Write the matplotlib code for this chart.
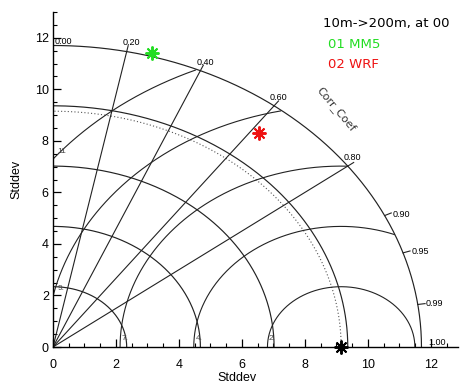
import numpy as np
import matplotlib
matplotlib.use("Agg")
import matplotlib.pyplot as plt

# --- data ---
ref_std = 9.15
model_names = ["01 MM5", "02 WRF"]
model_std = [11.83, 10.57]
model_corr = [0.265, 0.62]
model_colors = ["#22dd22", "#ee1111"]

std_arcs = [2.34, 4.68, 7.02, 9.36, 11.7]
rms_arcs = [2.34, 4.68, 7.02, 9.36, 11.7]
rms_labels = ["2.", "4.", "7.", "9.", "11"]
corr_lines = [0.2, 0.4, 0.6, 0.8]
corr_ticks = [0.2, 0.4, 0.6, 0.8, 0.9, 0.95, 0.99]
title_text = "10m->200m, at 00"

R = std_arcs[-1]
LC = "#222222"

plt.rcParams["font.family"] = ["Liberation Sans", "DejaVu Sans"]

fig = plt.figure(figsize=(4.74, 3.9), dpi=100)
ax = fig.add_axes([53 / 474, 1 - 347 / 390, 405 / 474, 335 / 390])
ax.set_xlim(0, 12.86)
ax.set_ylim(0, 13.0)

t = np.linspace(0, np.pi / 2, 300)

# std dev arcs
for r in std_arcs:
    ax.plot(r * np.cos(t), r * np.sin(t), color=LC, lw=0.85)
# reference arc (dotted)
ax.plot(ref_std * np.cos(t), ref_std * np.sin(t), color="#555555", lw=0.8, ls=(0, (1, 2)))

# correlation rays
for c in corr_lines:
    a = np.arccos(c)
    ax.plot([0, R * np.cos(a)], [0, R * np.sin(a)], color=LC, lw=0.8)

# rms arcs centred on the reference point
tt = np.linspace(0, np.pi, 600)
for r in rms_arcs:
    x = ref_std + r * np.cos(tt)
    y = r * np.sin(tt)
    m = (x ** 2 + y ** 2) > R ** 2 + 1e-6
    x = np.where(m | (x < 0), np.nan, x)
    ax.plot(x, y, color=LC, lw=0.8)

# rms arc labels
for r, lab in zip(rms_arcs, rms_labels):
    if r < ref_std:
        ax.text(ref_std - r + 0.05, 0.2, lab, fontsize=6, color="#444444",
                ha="left", va="bottom")
    else:
        yy = np.sqrt(r ** 2 - ref_std ** 2)
        ax.text(0.15, yy + 0.15, lab, fontsize=6, color="#444444",
                ha="left", va="bottom")

# correlation ticks and labels on the outer arc
for c in corr_ticks:
    a = np.arccos(c)
    ax.plot([R * np.cos(a), 1.02 * R * np.cos(a)],
            [R * np.sin(a), 1.02 * R * np.sin(a)], color=LC, lw=0.8)
    if c <= 0.8:
        ax.annotate(f"{c:.2f}", (R * np.cos(a), R * np.sin(a)), xytext=(-3, 3),
                    textcoords="offset points", fontsize=6.5, ha="left", va="bottom")
    else:
        ax.annotate(f"{c:.2f}", (R * np.cos(a), R * np.sin(a)), xytext=(6, 1),
                    textcoords="offset points", fontsize=6.5, ha="left", va="center")
ax.annotate("1.00", (R, 0), xytext=(5, 3), textcoords="offset points",
            fontsize=6.5, ha="left", va="center")
ax.annotate("0.00", (0, R), xytext=(1, 3), textcoords="offset points",
            fontsize=6.5, ha="left", va="center")

ax.text(0.70, 0.71, "Corr_Coef", transform=ax.transAxes, rotation=-50,
        fontsize=8, family="DejaVu Sans", color="#333333", ha="center", va="center")

# reference and model points
ax.plot(ref_std, 0, marker=(8, 2, 0), color="black", ms=10, mew=1.4,
        clip_on=False, zorder=5)
for s, c, col in zip(model_std, model_corr, model_colors):
    a = np.arccos(c)
    ax.plot(s * np.cos(a), s * np.sin(a), marker=(8, 2, 0), color=col, ms=10,
            mew=1.4, zorder=5)

# legend text
fig.text(323 / 474, 1 - 23 / 390, title_text, fontsize=9.5, family="DejaVu Sans",
         ha="left", va="center")
for i, (n, col) in enumerate(zip(model_names, model_colors)):
    fig.text(328 / 474, 1 - (45 + 20 * i) / 390, n, fontsize=9.5,
             family="DejaVu Sans", color=col, ha="left", va="center")

# axes styling
for s in ["top", "right"]:
    ax.spines[s].set_visible(False)
for s in ["left", "bottom"]:
    ax.spines[s].set_linewidth(1.0)
ax.set_xticks(np.arange(0, 13, 2))
ax.set_yticks(np.arange(0, 13, 2))
ax.set_xticks(np.arange(0, 12.9, 0.5), minor=True)
ax.set_yticks(np.arange(0, 13.01, 0.5), minor=True)
ax.tick_params(which="major", direction="in", length=6, width=0.9, labelsize=9)
ax.tick_params(which="minor", direction="in", length=3, width=0.8)
ax.tick_params(axis="x", which="major", pad=9)
ax.tick_params(axis="y", which="major", pad=3)
ax.set_xlabel("Stddev", fontsize=9)
ax.set_ylabel("Stddev", fontsize=9)
ax.xaxis.set_label_coords(0.454, -0.075)
ax.yaxis.set_label_coords(-0.075, 0.5)

fig.savefig("out.png", dpi=100)
